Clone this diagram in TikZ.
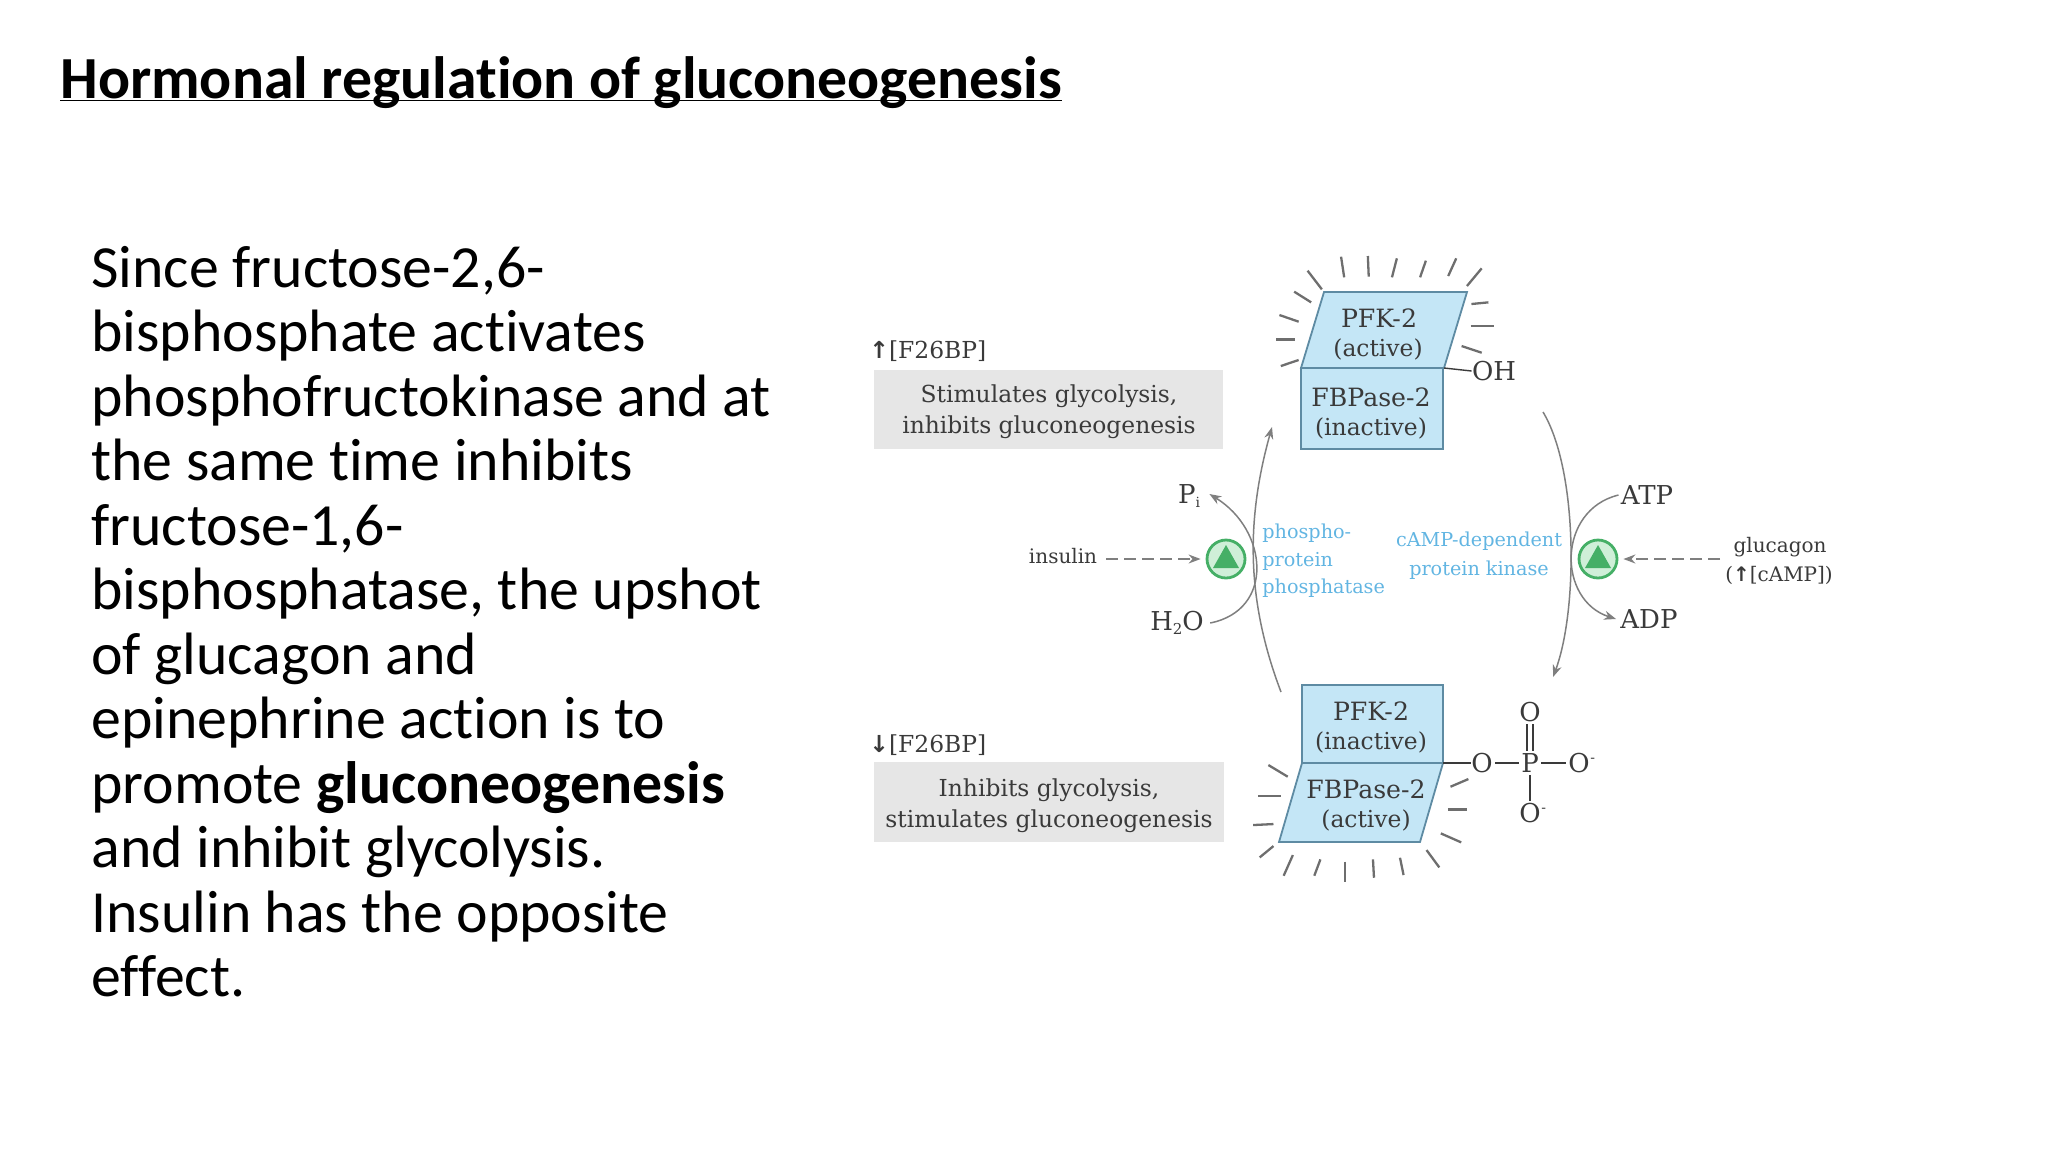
\documentclass[tikz,border=0pt]{standalone}
\usepackage{fontspec}
\setmainfont[Ligatures=NoCommon]{Carlito}
\newfontfamily\figfont{DejaVu Serif}
\newfontfamily\arrowfont{DejaVu Sans}
\usetikzlibrary{arrows.meta}
\definecolor{figtext}{HTML}{3A3A3A}
\definecolor{figline}{HTML}{7F7F7F}
\definecolor{raycol}{HTML}{6E6E6E}
\definecolor{boxfill}{HTML}{C4E6F6}
\definecolor{boxline}{HTML}{5E8BA3}
\definecolor{bluetext}{HTML}{62B5E2}
\definecolor{grayfill}{HTML}{E6E6E6}
\definecolor{greenc}{HTML}{45AF66}
\definecolor{greenl}{HTML}{CFEFD8}
\tikzset{
  fig/.style={text=figtext,inner sep=0pt,font=\figfont\fontsize{11.7}{13}\selectfont},
  small/.style={fig,font=\figfont\fontsize{10}{12}\selectfont},
  chem/.style={fig,font=\figfont\fontsize{13}{15}\selectfont},
  enzname/.style={fig,font=\figfont\fontsize{12.6}{15}\selectfont},
  bluelab/.style={inner sep=0pt,text=bluetext,font=\figfont\fontsize{9.6}{11}\selectfont},
  enzyme/.style={draw=boxline,fill=boxfill,line width=0.9pt,line join=miter},
  graybox/.style={fill=grayfill,draw=none},
  curve/.style={draw=figline,line width=0.75pt},
  tip/.style={-{Stealth[length=6pt,width=4.5pt]}},
  dashedarrow/.style={curve,dash pattern=on 6pt off 3pt,tip,shorten >=2.5pt},
  ray/.style={draw=raycol,line width=1.15pt},
  bond/.style={draw=figtext,line width=0.7pt},
  activator/.style={circle,draw=greenc,fill=greenl,line width=1.4pt,minimum size=19pt,inner sep=0pt},
  tri/.style={fill=greenc,draw=none}
}
\begin{document}
\begin{tikzpicture}[x=0.5pt,y=-0.5pt]
\useasboundingbox (0,0) rectangle (2048,1152);
% title and body
\node[anchor=base west,inner sep=0pt,font=\fontsize{29.85}{32}\selectfont\bfseries] (title) at (60,98)
  {\underline{\smash{Hormonal regulation of gluconeogenesis}}};
\node[anchor=base west,inner sep=0pt,align=left,font=\fontsize{29.9}{32.25}\selectfont] (body) at (91,287)
  {\begin{tabular}[t]{@{}l@{}}Since fructose-2,6-\\bisphosphate activates\\phosphofructokinase and at\\the same time inhibits\\fructose-1,6-\\bisphosphatase, the upshot\\of glucagon and\\epinephrine action is to\\promote \textbf{gluconeogenesis}\\and inhibit glycolysis.\\Insulin has the opposite\\effect.\end{tabular}};
% gray boxes
\node[graybox,anchor=north west,minimum width=349*0.5pt,minimum height=79*0.5pt,inner sep=0pt] (gb1) at (874,370) {};
\node[graybox,anchor=north west,minimum width=350*0.5pt,minimum height=80*0.5pt,inner sep=0pt] (gb2) at (874,762) {};
\node[fig] (s1) at (1049,396) {Stimulates glycolysis,};
\node[fig] (s2) at (1049,427) {inhibits gluconeogenesis};
\node[fig] (i1) at (1049,790) {Inhibits glycolysis,};
\node[fig] (i2) at (1049,821) {stimulates gluconeogenesis};
\node[fig,anchor=west] (up) at (869,351) {{\arrowfont\bfseries ↑}[F26BP]};
\node[fig,anchor=west] (down) at (869,745) {{\arrowfont\bfseries ↓}[F26BP]};
% upper enzyme
\path[enzyme] (1324,292) -- (1467,292) -- (1444,368) -- (1301,368) -- cycle;
\path[enzyme] (1301,368) rectangle (1443,449);
\node[enzname] (pfka) at (1379,318) {PFK-2};
\node[fig] (pfkb) at (1378,349) {(active)};
\node[enzname] (fba) at (1371,397) {FBPase-2};
\node[fig] (fbb) at (1371,428) {(inactive)};
\coordinate (hinge1) at (1444,368);
\node[chem] (oh) at (1494,371) {OH};
\draw[bond] (hinge1) -- (oh.west);
% rays top
\begin{scope}[shift={(850,240)},x=0.2232pt,y=-0.1667pt]
\foreach \a/\b/\c/\d in {1100/50/1107/112,1160/48/1162/110,1225/55/1214/112,1290/62/1277/112,1358/55/1340/108,1415/85/1382/138,1025/92/1057/148,995/155/1033/187,962/225/1005/245,955/298/997/298,965/378/1005/360,1392/192/1430/187,1390/257/1442/257,1370/318/1415/338}
  \draw[ray] (\a,\b) -- (\c,\d);
\end{scope}
% lower enzyme
\path[enzyme] (1302,685) rectangle (1443,763);
\path[enzyme] (1302,763) -- (1443,763) -- (1420,842) -- (1279,842) -- cycle;
\node[enzname] (pfkc) at (1371,711) {PFK-2};
\node[fig] (pfkd) at (1371,742) {(inactive)};
\node[enzname] (fbc) at (1366,789) {FBPase-2};
\node[fig] (fbd) at (1366,820) {(active)};
\begin{scope}[shift={(850,620)},x=0.2551pt,y=-0.1667pt]
\foreach \a/\b/\c/\d in {820/435/858/470,800/527/845/527,790/615/830/612,830/678/803/712,868/705/850/767,922/718/910/767,970/725/970/785,1025/718/1027/773,1078/713/1085/765,1130/690/1155/742,1158/640/1198/667,1172/568/1210/568,1177/500/1212/477}
  \draw[ray] (\a,\b) -- (\c,\d);
\end{scope}
% phosphate
\coordinate (hinge2) at (1443,763);
\node[chem] (o1) at (1482,763) {O};
\node[chem] (pp) at (1530,763) {P};
\node[chem] (o2) at (1579,763) {O};
\node[chem] (o3) at (1530,712) {O};
\node[chem] (o4) at (1530,813) {O};
\node[fig,anchor=west,font=\figfont\fontsize{7}{8}\selectfont] (m2) at ([yshift=1.5pt]o2.east) {-};
\node[fig,anchor=west,font=\figfont\fontsize{7}{8}\selectfont] (m4) at ([yshift=1.5pt]o4.east) {-};
\draw[bond] (hinge2) -- (o1.west);
\draw[bond,shorten <=1pt,shorten >=1pt] (o1.east) -- (pp.west);
\draw[bond,shorten <=1pt,shorten >=1pt] (pp.east) -- (o2.west);
\draw[bond] ([xshift=-1.5pt,yshift=-1pt]o3.south) -- ([xshift=-1.5pt,yshift=1pt]pp.north);
\draw[bond] ([xshift=1.5pt,yshift=-1pt]o3.south) -- ([xshift=1.5pt,yshift=1pt]pp.north);
\draw[bond,shorten <=1pt,shorten >=1pt] (pp.south) -- (o4.north);
% activators
\node[activator] (act1) at (1226,559) {};
\node[activator] (act2) at (1598,559) {};
\foreach \n in {act1,act2}
  \fill[tri] ([shift={(0,-14)}]\n.center) -- ([shift={(13,9)}]\n.center) -- ([shift={(-13,9)}]\n.center) -- cycle;
% curves
\coordinate (l0) at (1281,692); \coordinate (l1) at (1272,427);
\coordinate (r0) at (1543,412); \coordinate (r1) at (1553,677);
\draw[curve,tip] (l0) .. controls (1246,600) and (1246,520) .. (l1);
\draw[curve,tip] (r0) .. controls (1578,470) and (1578,610) .. (r1);
\node[chem] (pi) at (1189,496) {P\raisebox{-2pt}{\fontsize{7}{8}\selectfont i}};
\node[chem] (water) at (1177,623) {H\raisebox{-2pt}{\fontsize{7.5}{8}\selectfont 2}O};
\node[chem] (atp) at (1647,495) {ATP};
\node[chem] (adp) at (1649,619) {ADP};
\draw[curve,tip] ([xshift=3pt]water.east) .. controls (1275,610) and (1268,530) .. ([shift={(4.5pt,1pt)}]pi.east);
\draw[curve,tip] ([xshift=-1pt]atp.west) .. controls (1557,510) and (1557,600) .. ([xshift=-2pt]adp.west);
% dashed
\node[small] (ins) at (1063,556) {insulin};
\coordinate (insend) at (1106,559);
\draw[dashedarrow] (insend) -- (act1.west);
\node[small] (glu) at (1780,547) {glucagon};
\node[small] (cam) at (1779,575) {({\arrowfont\bfseries ↑}[cAMP])};
\coordinate (gluend) at (1720,559);
\draw[dashedarrow] (gluend) -- (act2.east);
% blue labels
\node[bluelab,anchor=west] (b1) at (1262,533) {phospho-};
\node[bluelab,anchor=west] (b2) at (1262,561) {protein};
\node[bluelab,anchor=west] (b3) at (1262,588) {phosphatase};
\node[bluelab] (b4) at (1479,541) {cAMP-dependent};
\node[bluelab] (b5) at (1479,570) {protein kinase};
\end{tikzpicture}
\end{document}
